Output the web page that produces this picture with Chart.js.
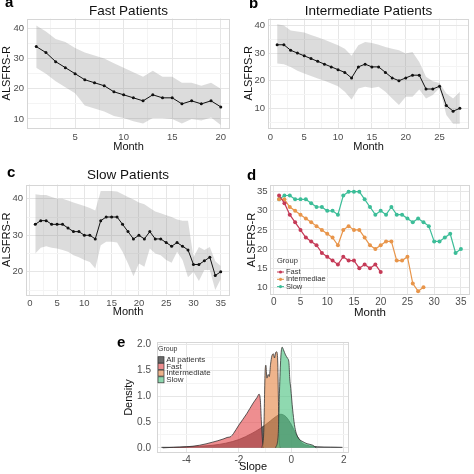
<!DOCTYPE html>
<html>
<head>
<meta charset="utf-8">
<script src="https://cdn.jsdelivr.net/npm/chart.js@4.4.0/dist/chart.umd.min.js"></script>
<style>
  body { margin: 0; background: #fff; }
  #fig { position: relative; width: 474px; height: 474px; overflow: hidden; }
  #fig canvas { position: absolute; }
  .tag { position: absolute; font: bold 15px/15px "Liberation Sans", Arial, sans-serif; color: #000; }
</style>
</head>
<body>
<div id="fig">
  <canvas id="chartA" width="237" height="160" style="left:0;top:0"></canvas>
  <canvas id="chartB" width="237" height="160" style="left:237px;top:0"></canvas>
  <canvas id="chartC" width="237" height="160" style="left:0;top:160px"></canvas>
  <canvas id="chartD" width="237" height="160" style="left:237px;top:160px"></canvas>
  <canvas id="chartE" width="260" height="154" style="left:100px;top:320px"></canvas>
  <div class="tag" style="left:5px;top:-6px">a</div>
  <div class="tag" style="left:249px;top:-5px">b</div>
  <div class="tag" style="left:7px;top:164px">c</div>
  <div class="tag" style="left:247px;top:167px">d</div>
  <div class="tag" style="left:117px;top:334px">e</div>
</div>
<script>
const FONT = '"Liberation Sans", Arial, sans-serif';
Chart.defaults.font.family = FONT;
Chart.defaults.animation = false;

// monthly mean ALSFRS-R and band, per group
const monthsFast = [1,2,3,4,5,6,7,8,9,10,11,12,13,14,15,16,17,18,19,20];
const fastMean  = [34,32,29,27,25,23,22,21,19,18,17,16,18,17,17,15,16,15,16,14];
const fastUpper = [41,39,36.5,35.5,33.5,32,31,30,28.5,27,25.5,24,26,24,24,22,22,21,22,20];
const fastLower = [27,25,22.5,20.5,18.5,14.5,13.5,12.5,11,10.3,9.2,8.5,10.3,10.3,10,8.5,10,9.5,10.5,8];

const monthsInt = [1,2,3,4,5,6,7,8,9,10,11,12,13,14,15,16,17,18,19,20,21,22,23,24,25,26,27,28];
const intMean  = [33,33,31,30,29,28,27,26,25,24,23,21,25,26,25,25,23,21,20,21,22,22,17,17,18,11,9,10];
const intUpper = [40.4,40,38.2,37.8,37.4,36.5,35.7,34.8,33.8,32.8,31.6,29,32.8,34,33.6,33,32.2,31.6,31,29.8,30.4,26.8,21.4,19.8,19.2,15.4,13.6,16];
const intLower = [26.2,26,25,23.6,22.6,21.7,20.8,20,19,18,16,13.2,17.2,17.8,17.4,17.8,16,13.6,11.2,14.2,14.2,16.8,13.6,14.8,17.4,7.6,4.4,4.4];

const monthsSlow = [1,2,3,4,5,6,7,8,9,10,11,12,13,14,15,16,17,18,19,20,21,22,23,24,25,26,27,28,29,30,31,32,33,34,35];
const slowMean  = [33,34,34,33,33,33,32,31,31,30,30,29,34,35,35,35,33,31,29,30,29,31,29,29,28,27,28,27,26,22,22,23,24,19,20];
const slowUpper = [41.2,41,41,40.5,40,40,39.5,39,38.5,38,37.5,36.8,42.1,42.1,42.1,42,41.2,40.5,39.8,39,38.5,37.5,36.5,36,35.5,35,34.3,34,34,24,26.8,26,26.8,22.9,21.6];
const slowLower = [25,26.6,27,26.6,26.4,26,25.5,24.5,24,23.2,22.7,20.9,27.3,28.2,28.2,28,25.5,22.3,18.8,22.3,21.4,26.4,25,24.5,23.2,22.5,25.5,23.2,18.5,20,17.5,20.5,20.5,15,18];

// slope density curves
const allSlope  = [-4.95,-4.5,-4,-3.5,-3,-2.5,-2,-1.5,-1.2,-1,-0.8,-0.6,-0.4,-0.2,0,0.2,0.4,0.6,0.8,1,1.5,1.95];
const allDens   = [0.01,0.01,0.02,0.03,0.05,0.09,0.16,0.28,0.37,0.44,0.52,0.6,0.65,0.6,0.45,0.25,0.1,0.05,0.03,0.02,0.015,0.01];
const fastSlope = [-4.9,-4.5,-4,-3.5,-3,-2.6,-2.45,-2.3,-2.2,-2,-1.7,-1.45,-1.3,-1.23,-1.18,-1.14,-1.1,-1.06];
const fastDens  = [0,0.01,0.02,0.05,0.11,0.17,0.2,0.22,0.28,0.44,0.66,0.87,0.98,1.04,0.92,0.5,0.15,0];
const intSlope  = [-1.12,-1.05,-1.0,-0.97,-0.93,-0.88,-0.84,-0.79,-0.74,-0.68,-0.64,-0.6,-0.56,-0.52,-0.49,-0.46,-0.42];
const intDens   = [0,0.3,1.45,1.6,1.35,1.42,1.38,1.62,1.78,1.82,1.74,1.84,1.86,1.7,0.9,0.15,0];
const slowSlope = [-0.6,-0.5,-0.45,-0.4,-0.35,-0.3,-0.22,-0.15,-0.09,-0.06,-0.02,0.05,0.12,0.19,0.3,0.44,0.6,0.82,0.95];
const slowDens  = [0,0.25,1.1,1.75,1.95,1.9,1.8,1.74,1.65,1.35,1.15,0.75,0.45,0.28,0.17,0.12,0.08,0.05,0];

// axis ticks (majors get labels, the rest only grid lines)
const xTicksA = [2.5,5,7.5,10,12.5,15,17.5,20];
const xMajorA = [5,10,15,20];
const yTicksA = [10,15,20,25,30,35,40];
const yMajorA = [10,20,30,40];
const xTicksB = [0,2.5,5,7.5,10,12.5,15,17.5,20,22.5,25,27.5];
const xMajorB = [0,5,10,15,20,25];
const yTicksB = [5,10,15,20,25,30,35,40];
const yMajorB = [10,20,30,40];
const xTicksC = [0,2.5,5,7.5,10,12.5,15,17.5,20,22.5,25,27.5,30,32.5,35];
const xMajorC = [0,5,10,15,20,25,30,35];
const yTicksC = [15,20,25,30,35,40];
const yMajorC = [20,30,40];
const yTicksD = [10,12.5,15,17.5,20,22.5,25,27.5,30,32.5,35];
const yMajorD = [10,15,20,25,30,35];
const xTicksE = [-5,-4,-3,-2,-1,0,1,2];
const xMajorE = [-4,-2,0,2];
const yTicksE = [0,0.25,0.5,0.75,1,1.25,1.5,1.75,2];
const yMajorE = [0,0.5,1,1.5,2];

const toPts = (xs, ys) => xs.map((x, i) => ({x: x, y: ys[i]}));

function axis(c) {
  return {
    type: 'linear',
    bounds: 'data',
    min: c.min,
    max: c.max,
    afterBuildTicks: (s) => { s.ticks = c.ticks.map(v => ({value: v})); },
    afterFit: (s) => {
      if (c.width) s.width = c.width;
      if (c.height) s.height = c.height;
    },
    grid: {
      drawTicks: false,
      lineWidth: 1,
      color: (ctx) => (ctx.tick && c.majors.includes(ctx.tick.value)) ? '#e6e6e6' : '#f4f4f4',
    },
    border: { display: false },
    ticks: {
      autoSkip: false,
      maxRotation: 0,
      padding: c.pad,
      color: '#4d4d4d',
      font: { size: c.size || 9.5 },
      callback: (v) => c.majors.includes(v) ? (c.fmt ? c.fmt(v) : String(v)) : '',
    },
    title: {
      display: true,
      text: c.title,
      color: '#111',
      font: { size: c.titleSize || 11 },
      padding: c.titlePad,
    },
  };
}

const panelBorder = {
  id: 'panelBorder',
  beforeDatasetsDraw(chart) {
    const a = chart.chartArea;
    const ctx = chart.ctx;
    ctx.save();
    ctx.strokeStyle = '#d6d6d6';
    ctx.lineWidth = 1;
    ctx.strokeRect(Math.round(a.left) + 0.5, Math.round(a.top) + 0.5,
      Math.round(a.right - a.left) - 1, Math.round(a.bottom - a.top) - 1);
    ctx.restore();
  },
};

const groupLegend = {
  id: 'groupLegend',
  afterDatasetsDraw(chart, args, o) {
    if (!o.show) return;
    const ctx = chart.ctx;
    const x = chart.chartArea.left + o.x;
    let y = chart.chartArea.top + o.y;
    ctx.save();
    ctx.textBaseline = 'middle';
    ctx.textAlign = 'left';
    ctx.fillStyle = '#333';
    ctx.font = o.titleSize + 'px ' + FONT;
    ctx.fillText(o.title, x, y);
    y += o.gap;
    ctx.font = o.size + 'px ' + FONT;
    chart.data.datasets.forEach((ds) => {
      if (!ds.inLegend) return;
      if (o.marker === 'box') {
        ctx.fillStyle = ds.backgroundColor;
        ctx.fillRect(x, y - 3, 6, 6);
        ctx.strokeStyle = '#333';
        ctx.lineWidth = 0.7;
        ctx.strokeRect(x, y - 3, 6, 6);
      } else {
        ctx.strokeStyle = ds.borderColor;
        ctx.lineWidth = 1;
        ctx.beginPath();
        ctx.moveTo(x, y);
        ctx.lineTo(x + 7, y);
        ctx.stroke();
        ctx.fillStyle = ds.borderColor;
        ctx.beginPath();
        ctx.arc(x + 3.5, y, 1.6, 0, Math.PI * 2);
        ctx.fill();
      }
      ctx.fillStyle = '#333';
      ctx.fillText(ds.label, x + o.textDx, y);
      y += o.rowH;
    });
    ctx.restore();
  },
};

Chart.register(panelBorder, groupLegend);

function bandChart(id, months, mean, upper, lower, cfg) {
  new Chart(document.getElementById(id), {
    type: 'line',
    data: {
      datasets: [
        {
          label: 'mean',
          data: toPts(months, mean),
          borderColor: '#111',
          borderWidth: 1,
          pointRadius: 1.5,
          pointBackgroundColor: '#111',
          pointBorderWidth: 0,
          fill: false,
        },
        {
          label: 'lower',
          data: toPts(months, lower),
          borderWidth: 0,
          pointRadius: 0,
          fill: false,
        },
        {
          label: 'upper',
          data: toPts(months, upper),
          borderWidth: 0,
          pointRadius: 0,
          backgroundColor: 'rgba(128,128,128,0.28)',
          fill: '-1',
        },
      ],
    },
    options: {
      responsive: false,
      layout: { padding: cfg.padding },
      plugins: {
        legend: { display: false },
        tooltip: { enabled: false },
        title: {
          display: true,
          fullSize: false,
          text: cfg.title,
          color: '#111',
          font: { size: 13.5, weight: 'normal', lineHeight: 1 },
          padding: cfg.titlePad,
        },
      },
      scales: { x: axis(cfg.x), y: axis(cfg.y) },
    },
  });
}

bandChart('chartA', monthsFast, fastMean, fastUpper, fastLower, {
  title: 'Fast Patients',
  titlePad: { top: 4.5, bottom: 0.5 },
  padding: { left: 0, right: 7, top: 0, bottom: 0 },
  x: { min: 0.05, max: 20.95, ticks: xTicksA, majors: xMajorA, height: 32, pad: 4,
       title: 'Month', titlePad: { top: 0, bottom: 6.5 } },
  y: { min: 7.0, max: 43.3, ticks: yTicksA, majors: yMajorA, width: 27, pad: 3,
       title: 'ALSFRS-R', titlePad: { top: 0.5, bottom: 0 } },
});

bandChart('chartB', monthsInt, intMean, intUpper, intLower, {
  title: 'Intermediate Patients',
  titlePad: { top: 4.5, bottom: 0.5 },
  padding: { left: 0, right: 5, top: 0, bottom: 0 },
  x: { min: -0.35, max: 29.35, ticks: xTicksB, majors: xMajorB, height: 32, pad: 4,
       title: 'Month', titlePad: { top: 0, bottom: 6.5 } },
  y: { min: 2.9, max: 42.5, ticks: yTicksB, majors: yMajorB, width: 31, pad: 3,
       title: 'ALSFRS-R', titlePad: { top: 5, bottom: 0 } },
});

bandChart('chartC', monthsSlow, slowMean, slowUpper, slowLower, {
  title: 'Slow Patients',
  titlePad: { top: 8.5, bottom: 2.5 },
  padding: { left: 0, right: 7, top: 0, bottom: 0 },
  x: { min: -0.7, max: 36.7, ticks: xTicksC, majors: xMajorC, height: 25, pad: 3,
       title: 'Month', titlePad: { top: 0, bottom: 1.7 } },
  y: { min: 13.65, max: 43.9, ticks: yTicksC, majors: yMajorC, width: 26, pad: 3,
       title: 'ALSFRS-R', titlePad: { top: 0.7, bottom: 0 } },
});

// panel d: the three group means together
const groupColors = { fast: '#c53a57', int: '#e8954a', slow: '#3cbd98' };
function groupLine(label, months, mean, color) {
  return {
    label: label,
    inLegend: true,
    data: toPts(months, mean),
    borderColor: color,
    backgroundColor: color,
    borderWidth: 1.2,
    pointRadius: 2,
    pointBorderWidth: 0,
    pointBackgroundColor: color,
    fill: false,
  };
}
new Chart(document.getElementById('chartD'), {
  type: 'line',
  data: {
    datasets: [
      groupLine('Fast', monthsFast, fastMean, groupColors.fast),
      groupLine('Intermediae', monthsInt, intMean, groupColors.int),
      groupLine('Slow', monthsSlow, slowMean, groupColors.slow),
    ],
  },
  options: {
    responsive: false,
    layout: { padding: { left: 0, right: 2, top: 25, bottom: 0 } },
    plugins: {
      legend: { display: false },
      tooltip: { enabled: false },
      groupLegend: { show: true, title: 'Group', x: 7, y: 76, gap: 11, rowH: 7.3,
                     size: 7.5, titleSize: 7.5, textDx: 9, marker: 'point' },
    },
    scales: {
      x: axis({ min: -0.7, max: 36.7, ticks: xTicksC, majors: xMajorC, height: 25, pad: 1.2, size: 10,
                title: 'Month', titleSize: 11.5, titlePad: { top: 0, bottom: 0.4 } }),
      y: axis({ min: 8.0, max: 36.75, ticks: yTicksD, majors: yMajorD, width: 33, pad: 2.3, size: 9.6,
                title: 'ALSFRS-R', titleSize: 11, titlePad: { top: 8.3, bottom: 0 } }),
    },
  },
});

// panel e: density of slopes
function densSet(label, xs, ys, fillColor, order) {
  return {
    label: label,
    inLegend: true,
    order: order,
    data: toPts(xs, ys),
    borderColor: '#333',
    borderWidth: 0.8,
    backgroundColor: fillColor,
    pointRadius: 0,
    cubicInterpolationMode: 'monotone',
    fill: 'origin',
  };
}
new Chart(document.getElementById('chartE'), {
  type: 'line',
  data: {
    datasets: [
      densSet('All patients', allSlope, allDens, 'rgba(50,50,50,0.72)', 4),
      densSet('Fast', fastSlope, fastDens, 'rgba(229,81,84,0.65)', 3),
      densSet('Intermediate', intSlope, intDens, 'rgba(230,140,78,0.65)', 2),
      densSet('Slow', slowSlope, slowDens, 'rgba(83,197,133,0.65)', 1),
    ],
  },
  options: {
    responsive: false,
    layout: { padding: { left: 22, right: 11, top: 22, bottom: 0 } },
    plugins: {
      legend: { display: false },
      tooltip: { enabled: false },
      groupLegend: { show: true, title: 'Group', x: 1, y: 6.7, gap: 11, rowH: 6.7,
                     size: 8, titleSize: 7, textDx: 8.2, marker: 'box' },
    },
    scales: {
      x: axis({ min: -5.12, max: 2.2, ticks: xTicksE, majors: xMajorE, height: 21, pad: 1, size: 10,
                title: 'Slope', titleSize: 11, titlePad: { top: 0, bottom: 0 } }),
      y: axis({ min: -0.1, max: 2.05, ticks: yTicksE, majors: yMajorE, width: 35, pad: 6, size: 10,
                fmt: (v) => v.toFixed(1),
                title: 'Density', titleSize: 11, titlePad: { top: 0.7, bottom: 0 } }),
    },
  },
});
</script>
</body>
</html>
